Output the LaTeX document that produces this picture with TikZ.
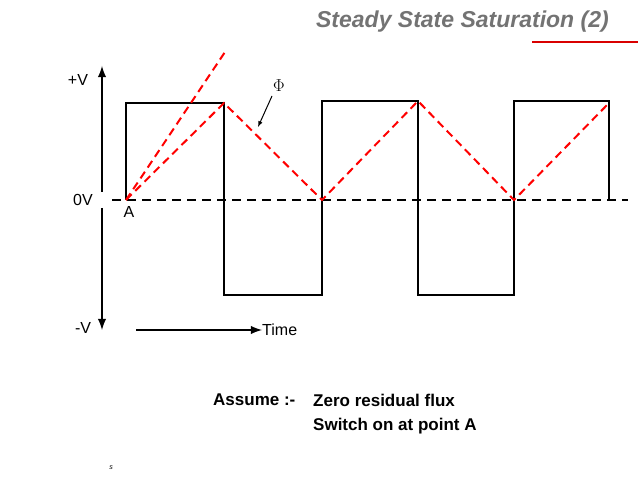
\documentclass[tikz,border=0pt]{standalone}
\usepackage{fontspec}
\setmainfont{Liberation Sans}
\begin{document}
\begin{tikzpicture}[x=1pt,y=-1pt,
 wave/.style={line width=2.8pt,black},
 flux/.style={red,line width=2pt,dash pattern=on 8pt off 5pt},
 lbl/.style={font=\fontsize{16}{18}\selectfont,inner sep=0pt},
 bold/.style={font=\bfseries\fontsize{17}{19}\selectfont,inner sep=0pt,anchor=west}]
\useasboundingbox (0,0) rectangle (638,478);
\node[anchor=east,inner sep=0pt,text=gray!90!black,font=\bfseries\itshape\fontsize{23}{26}\selectfont] (title) at (609,22) {Steady State Saturation (2)};
\draw[red!85!black,line width=1.8pt] (532,42) coordinate (r1) -- (638,42) coordinate (r2);
% axis
\coordinate (atop) at (102,66); \coordinate (amid1) at (102,192);
\coordinate (amid2) at (102,208); \coordinate (abot) at (102,330);
\draw[line width=2.8pt,-latex] (amid1) -- (atop);
\draw[line width=2.8pt,-latex] (amid2) -- (abot);
\coordinate (z1) at (112,200); \coordinate (z2) at (628,200);
\draw[line width=2pt,dash pattern=on 9pt off 6pt] (z1) -- (z2);
\draw[wave] (126,200) -- (126,103) -- (224,103) -- (224,295) -- (322,295) -- (322,101) -- (418,101) -- (418,295) -- (514,295) -- (514,101) -- (609,101) -- (609,200);
\coordinate (A) at (126,200); \coordinate (p1) at (224,103); \coordinate (p2) at (322,200);
\coordinate (p3) at (418,101); \coordinate (p4) at (514,200); \coordinate (p5) at (609,103);
\coordinate (s) at (225,52);
\draw[flux] (A) -- (p1) -- (p2) -- (p3) -- (p4) -- (p5);
\draw[flux] (A) -- (s);
\node[lbl,font=\fontsize{18}{20}\selectfont] (phi) at (279,86) {$\Phi$};
\coordinate (phit) at (258,127);
\draw[-latex,line width=1pt] (272,96) coordinate (phis) -- (phit);
\node[lbl] (pv) at (78,80) {+V};
\node[lbl] (zv) at (83,200) {0V};
\node[lbl] (la) at (129,212) {A};
\node[lbl] (mv) at (83,328) {-V};
\node[lbl,anchor=west] (time) at (262,330) {Time};
\coordinate (t0) at (136,330);
\draw[line width=2.8pt,-latex] (t0) -- (time.west);
\node[bold] (as) at (213,400) {Assume :-};
\node[bold] (zr) at (313,400) {Zero residual flux};
\node[bold] (sw) at (313,426) {Switch on at point A};
\node[inner sep=0pt,font=\itshape\fontsize{7}{8}\selectfont] (sm) at (111,468) {s};
\end{tikzpicture}
\end{document}
